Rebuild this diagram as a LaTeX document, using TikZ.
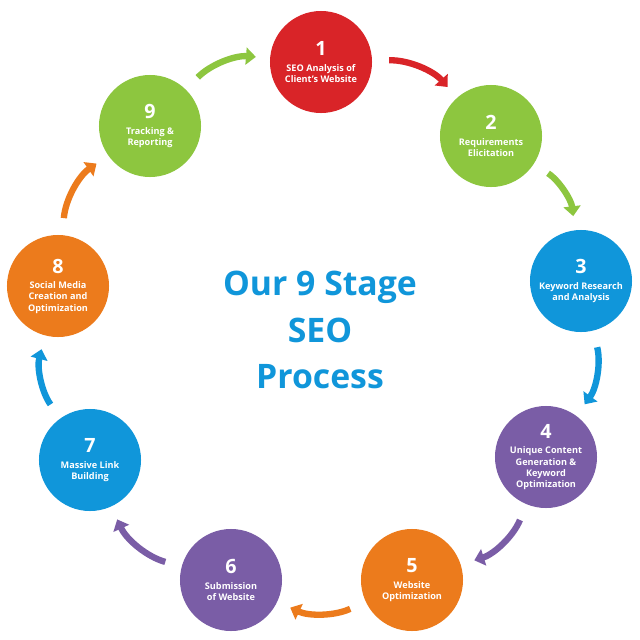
\documentclass[tikz,border=0pt]{standalone}
\usepackage{fontspec}
\setmainfont{Open Sans}
\usetikzlibrary{arrows.meta}
\definecolor{seored}{HTML}{D92428}
\definecolor{seogreen}{HTML}{8DC63F}
\definecolor{seoblue}{HTML}{1096DA}
\definecolor{seopurple}{HTML}{7A5DA6}
\definecolor{seoorange}{HTML}{EC7B1C}
\tikzset{
	stage/.style={circle, fill=#1, minimum size=2.55cm, text=white, align=center,
		font=\bfseries\fontsize{6.5}{8}\selectfont, inner sep=0pt},
	flow/.style={line width=4.5pt, draw=#1, -{Triangle[length=7pt,width=12pt]},
		shorten <=12pt, shorten >=10pt}
}
\newcommand{\stagetext}[2]{{\fontsize{14}{16}\selectfont #1}\\[3pt]#2}
\begin{document}
\begin{tikzpicture}[x=0.025cm, y=-0.025cm]
	\useasboundingbox[fill=white] (0,0) rectangle (640,640);
	% Stufen
	\node[stage=seored] (s1) at (321,62) {\stagetext{1}{SEO Analysis of\\Client's Website}};
	\node[stage=seogreen] (s2) at (491,136) {\stagetext{2}{Requirements\\Elicitation}};
	\node[stage=seoblue] (s3) at (581,281) {\stagetext{3}{Keyword Research\\and Analysis}};
	\node[stage=seopurple] (s4) at (546,457) {\stagetext{4}{Unique Content\\Generation \&\\Keyword\\Optimization}};
	\node[stage=seoorange] (s5) at (412,580) {\stagetext{5}{Website\\Optimization}};
	\node[stage=seopurple] (s6) at (231,580) {\stagetext{6}{Submission\\of Website}};
	\node[stage=seoblue] (s7) at (90,460) {\stagetext{7}{Massive Link\\Building}};
	\node[stage=seoorange] (s8) at (58,286) {\stagetext{8}{Social Media\\Creation and\\Optimization}};
	\node[stage=seogreen] (s9) at (150,126) {\stagetext{9}{Tracking \&\\Reporting}};
	% Pfeile
	\draw[flow=seored] (s1) to[bend left=25] (s2);
	\draw[flow=seogreen] (s2) to[bend left=25] (s3);
	\draw[flow=seoblue] (s3) to[bend left=25] (s4);
	\draw[flow=seopurple] (s4) to[bend left=25] (s5);
	\draw[flow=seoorange] (s5) to[bend left=25] (s6);
	\draw[flow=seopurple] (s6) to[bend left=25] (s7);
	\draw[flow=seoblue] (s7) to[bend left=25] (s8);
	\draw[flow=seoorange] (s8) to[bend left=25] (s9);
	\draw[flow=seogreen] (s9) to[bend left=25] (s1);
	% Titel
	\node[text=seoblue, font=\bfseries\fontsize{24}{33}\selectfont, align=center] (title) at (320,330)
		{Our 9 Stage\\SEO\\Process};
\end{tikzpicture}
\end{document}
